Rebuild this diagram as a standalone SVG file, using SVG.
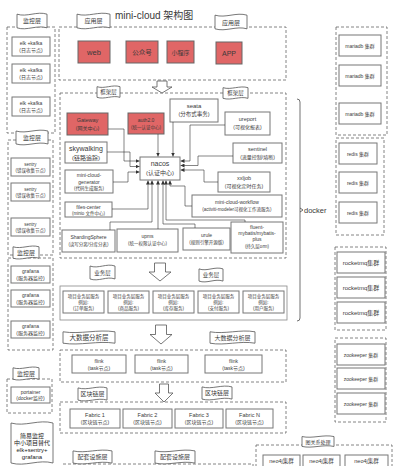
<svg xmlns="http://www.w3.org/2000/svg" width="400" height="466" viewBox="0 0 400 466">
<style>
text{font-family:"Liberation Sans","Noto Sans CJK SC",sans-serif;fill:#3a3a3a;text-anchor:middle}
.bx{fill:#fff;stroke:#777;stroke-width:1}
.rd{fill:#e06666;stroke:#666;stroke-width:1}
.dc{fill:none;stroke:#666;stroke-width:0.8;stroke-dasharray:3 2}
.sc{fill:none;stroke:#888;stroke-width:0.8}
.ln{fill:none;stroke:#333;stroke-width:0.6;marker-end:url(#ah)}
.f45{font-size:4.5px}.f5{font-size:5px}.f55{font-size:5.5px}.f6{font-size:6px}.f65{font-size:6.5px}.f7{font-size:7px}
</style>
<defs>
<marker id="ah" viewBox="0 0 6 6" refX="6" refY="3" markerWidth="4" markerHeight="4" orient="auto" markerUnits="userSpaceOnUse"><path d="M0,0 L6,3 L0,6 Z" fill="#333"/></marker>
<symbol id="tape" viewBox="0 0 100 100" preserveAspectRatio="none" overflow="visible"><path d="M0,12 C33,30 67,-6 100,12 L100,88 C67,70 33,106 0,88 Z" fill="#fff" stroke="#555" stroke-width="0.8" vector-effect="non-scaling-stroke"/></symbol>
<symbol id="harrow" viewBox="0 0 20 18" preserveAspectRatio="none" overflow="visible"><path d="M5,0 H15 V9 H20 L10,18 L0,9 H5 Z" fill="#fff" stroke="#555" stroke-width="0.8" vector-effect="non-scaling-stroke"/></symbol>
</defs>
<rect width="400" height="466" fill="#fff"/>

<g id="containers">
<rect class="dc" x="7" y="27" width="48" height="106"/>
<rect class="dc" x="8" y="140" width="45" height="115"/>
<rect class="dc" x="8" y="258" width="45" height="92"/>
<rect class="dc" x="7" y="379" width="45" height="34"/>
<rect class="dc" x="59" y="27" width="227" height="53"/>
<rect class="dc" x="60" y="93" width="226" height="165"/>
<rect class="sc" x="60" y="286" width="227" height="34"/>
<rect class="dc" x="60" y="350" width="226" height="32"/>
<rect class="dc" x="60" y="402" width="226" height="31"/>
<rect class="dc" x="63" y="464" width="190" height="20"/>
<rect class="dc" x="336" y="27" width="51" height="108"/>
<rect class="dc" x="336" y="138" width="48" height="97"/>
<rect class="dc" x="335" y="247" width="51" height="83"/>
<rect class="dc" x="335" y="338" width="51" height="84"/>
<rect class="dc" x="256" y="445" width="136" height="30"/>
</g>

<text x="115" y="19" style="font-size:10px;text-anchor:start">mini-cloud 架构图</text>

<g id="banners">
<use href="#tape" x="17" y="12" width="30" height="18"/><text class="f6" x="32" y="23">监控层</text>
<use href="#tape" x="16" y="129" width="32" height="17"/><text class="f6" x="32" y="140">监控层</text>
<use href="#tape" x="13" y="245" width="26" height="15"/><text class="f6" x="26" y="255">监控层</text>
<use href="#tape" x="13" y="366" width="26" height="15"/><text class="f6" x="26" y="376">监控层</text>
<path d="M11,423 C25,427 39,419 53,423 L53,463 C39,459 25,467 11,463 Z" fill="#fff" stroke="#555" stroke-width="0.8"/>
<text class="f6" x="32" y="438" style="fill:#222"><tspan x="32">简易监控</tspan><tspan x="32" dy="7">中小项目替代</tspan><tspan x="32" dy="7">elk+sentry+</tspan><tspan x="32" dy="7">grafana</tspan></text>
<use href="#tape" x="77" y="12" width="33" height="18"/><text class="f6" x="93.5" y="23">应用层</text>
<use href="#tape" x="215" y="13" width="32" height="18"/><text class="f6" x="231" y="24.5">应用层</text>
<use href="#tape" x="97" y="85" width="23" height="14"/><text class="f55" x="108.5" y="94">框架层</text>
<use href="#tape" x="223" y="86" width="25" height="14"/><text class="f55" x="235.5" y="95">框架层</text>
<use href="#tape" x="90" y="264" width="25" height="17"/><text class="f55" x="102.5" y="274.5">业务层</text>
<use href="#tape" x="199" y="267" width="24" height="16"/><text class="f55" x="211" y="277">业务层</text>
<use href="#tape" x="63" y="330" width="52" height="15"/><text class="f65" x="89" y="340">大数据分析层</text>
<use href="#tape" x="210" y="330" width="45" height="15"/><text class="f6" x="232.5" y="340">大数据分析层</text>
<use href="#tape" x="78" y="386" width="29" height="16"/><text class="f6" x="92.5" y="396">区块链层</text>
<use href="#tape" x="202" y="385" width="30" height="16"/><text class="f6" x="217" y="395">区块链层</text>
<use href="#tape" x="73" y="449" width="39" height="16"/><text class="f6" x="92.5" y="459">配套设施层</text>
<use href="#tape" x="155" y="449" width="40" height="16"/><text class="f6" x="175" y="459">配套设施层</text>
<use href="#tape" x="302" y="435" width="32" height="13"/><text class="f5" x="318" y="443.5">图关系处理</text>
<use href="#harrow" x="152" y="81" width="20" height="12"/>
<use href="#harrow" x="149" y="263" width="22" height="18"/>
<use href="#harrow" x="150" y="325" width="22" height="19"/>
<use href="#harrow" x="155" y="384" width="18" height="18"/>
</g>

<g id="monitor">
<g id="elk1"><rect class="bx" x="12" y="37" width="38" height="19"/><text class="f5" x="31" y="45">elk +kafka</text><text class="f5" x="31" y="52">(日志节点)</text></g>
<g id="elk2"><rect class="bx" x="12" y="64" width="38" height="19"/><text class="f5" x="31" y="72">elk +kafka</text><text class="f5" x="31" y="79">(日志节点)</text></g>
<g id="elk3"><rect class="bx" x="12" y="97" width="38" height="19"/><text class="f5" x="31" y="105">elk +kafka</text><text class="f5" x="31" y="112">(日志节点)</text></g>
<g id="sentry1"><rect class="bx" x="11" y="158" width="39" height="18"/><text class="f45" x="30.5" y="165.5">sentry</text><text class="f45" x="30.5" y="172">(错误收集节点)</text></g>
<g id="sentry2"><rect class="bx" x="11" y="183" width="39" height="18"/><text class="f45" x="30.5" y="190.5">sentry</text><text class="f45" x="30.5" y="197">(错误收集节点)</text></g>
<g id="sentry3"><rect class="bx" x="11" y="218" width="39" height="18"/><text class="f45" x="30.5" y="225.5">sentry</text><text class="f45" x="30.5" y="232">(错误收集节点)</text></g>
<g id="grafana1"><rect class="bx" x="11" y="266" width="39" height="17"/><text class="f5" x="30.5" y="273">grafana</text><text class="f5" x="30.5" y="280">(服务器监控)</text></g>
<g id="grafana2"><rect class="bx" x="11" y="290" width="39" height="17"/><text class="f5" x="30.5" y="297">grafana</text><text class="f5" x="30.5" y="304">(服务器监控)</text></g>
<g id="grafana3"><rect class="bx" x="11" y="321" width="39" height="17"/><text class="f5" x="30.5" y="328">grafana</text><text class="f5" x="30.5" y="335">(服务器监控)</text></g>
<g id="portainer"><rect class="bx" x="11" y="387" width="39" height="16"/><text class="f5" x="30.5" y="393.5">portainer</text><text class="f5" x="30.5" y="400">(docker监控)</text></g>
</g>

<g id="app">
<g id="web"><rect class="rd" x="78" y="41" width="32" height="22"/><text x="94" y="55" style="font-size:7.5px">web</text></g>
<g id="gzh"><rect class="rd" x="126" y="41" width="32" height="22"/><text class="f65" x="142" y="54.5">公众号</text></g>
<g id="xcx"><rect class="rd" x="167" y="41" width="27" height="22"/><text class="f6" x="180.5" y="54.5">小程序</text></g>
<g id="appn"><rect class="rd" x="216" y="42" width="26" height="22"/><text class="f7" x="229" y="56">APP</text></g>
</g>

<g id="framework">
<g id="gateway"><rect class="rd" x="67" y="113" width="41" height="22"/><text class="f55" x="87.5" y="122">Gateway</text><text class="f5" x="87.5" y="129.5">(网关中心)</text></g>
<g id="auth"><rect class="rd" x="128" y="113" width="36" height="21"/><text class="f5" x="146" y="121.5">auth2.0</text><text class="f45" x="146" y="128.5">(统一认证中心)</text></g>
<g id="seata"><rect class="bx" x="170" y="99" width="48" height="23"/><text class="f6" x="194" y="107.5">seata</text><text class="f55" x="194" y="116">(分布式事务)</text></g>
<g id="ureport"><rect class="bx" x="225" y="112" width="45" height="23"/><text class="f55" x="247.5" y="121">ureport</text><text class="f5" x="247.5" y="129">(可视化报表)</text></g>
<g id="skywalking"><rect class="bx" x="65" y="142" width="42" height="21"/><text class="f7" x="86" y="151">skywalking</text><text class="f6" x="86" y="159.5">(链路追踪)</text></g>
<g id="generator"><rect class="bx" x="65" y="170" width="48" height="23"/><text class="f5" x="89" y="177">mini-cloud-</text><text class="f5" x="89" y="183.5">generator</text><text class="f45" x="89" y="190">(代码生成服务)</text></g>
<g id="files"><rect class="bx" x="65" y="202" width="47" height="15"/><text class="f5" x="88.5" y="208.5">files-center</text><text class="f45" x="88.5" y="214.5">(minio 文件中心)</text></g>
<g id="nacos"><rect class="bx" x="140" y="157" width="40" height="23"/><text class="f7" x="160" y="166">nacos</text><text class="f6" x="160" y="175">(认证中心)</text></g>
<g id="sentinel"><rect class="bx" x="233" y="143" width="49" height="20"/><text class="f55" x="257.5" y="151">sentinel</text><text class="f5" x="257.5" y="158.5">(流量控制/熔断)</text></g>
<g id="xxljob"><rect class="bx" x="218" y="172" width="52" height="20"/><text class="f55" x="244" y="180">xxljob</text><text class="f5" x="244" y="188">(可视化定时任务)</text></g>
<g id="workflow"><rect class="bx" x="192" y="195" width="90" height="22"/><text class="f5" x="237" y="203.5">mini-cloud-workflow</text><text class="f45" x="237" y="211">(activiti-modeler可视化工作流服务)</text></g>
<g id="sharding"><rect class="bx" x="62" y="230" width="53" height="22"/><text class="f5" x="88.5" y="238.5">ShardingSphere</text><text class="f45" x="88.5" y="246">(读写分离/分库分表)</text></g>
<g id="upms"><rect class="bx" x="117" y="229" width="61" height="23"/><text class="f5" x="147.5" y="237.5">upms</text><text class="f45" x="147.5" y="245">(统一权限认证中心)</text></g>
<g id="urule"><rect class="bx" x="183" y="228" width="47" height="22"/><text class="f5" x="206.5" y="236.5">urule</text><text class="f45" x="206.5" y="244">(规则引擎开源版)</text></g>
<g id="fluent"><rect class="bx" x="231" y="222" width="52" height="31"/><text class="f5" x="257" y="229">fluent-</text><text class="f5" x="257" y="235">mybatis/mybatis-</text><text class="f5" x="257" y="241">plus</text><text class="f45" x="257" y="247.5">(持久层orm)</text></g>
</g>

<g id="connectors">
<path class="ln" d="M158,134 V156.5"/>
<path class="ln" d="M173,122 V156.5"/>
<path class="ln" d="M108,129 H124 V161 H139.5"/>
<path class="ln" d="M107,152 H130 V166.5 H139.5"/>
<path class="ln" d="M113,182 H128 V172 H139.5"/>
<path class="ln" d="M225,125 H190 V161 H180.5"/>
<path class="ln" d="M233,156 H198 V165.5 H180.5"/>
<path class="ln" d="M218,182 H204 V170 H180.5"/>
<path class="ln" d="M192,206 H185 V186 H170 V180.5"/>
<path class="ln" d="M112,209 H148 V180.5"/>
<path class="ln" d="M110,230 V222 H152 V180.5"/>
<path class="ln" d="M158,229 V180.5"/>
<path class="ln" d="M195,228 V224 H163 V180.5"/>
<path class="ln" d="M245,222 V220 H166 V180.5"/>
<path d="M297,99 Q300,99 300,102 V318 Q300,321 297,321 M300,208 L303,210 L300,212" fill="none" stroke="#333" stroke-width="0.7"/>
<text x="304" y="212.5" style="font-size:7.5px;text-anchor:start">docker</text>
</g>

<g id="business">
<g id="biz1"><rect class="bx" x="63" y="291" width="41" height="22"/><text class="f45" x="83.5" y="297.5">项目业务层服务</text><text class="f45" x="83.5" y="303.5">例如:</text><text class="f45" x="83.5" y="309.5">(订单服务)</text></g>
<g id="biz2"><rect class="bx" x="108" y="291" width="41" height="22"/><text class="f45" x="128.5" y="297.5">项目业务层服务</text><text class="f45" x="128.5" y="303.5">例如:</text><text class="f45" x="128.5" y="309.5">(商品服务)</text></g>
<g id="biz3"><rect class="bx" x="153" y="291" width="41" height="22"/><text class="f45" x="173.5" y="297.5">项目业务层服务</text><text class="f45" x="173.5" y="303.5">例如:</text><text class="f45" x="173.5" y="309.5">(库存服务)</text></g>
<g id="biz4"><rect class="bx" x="198" y="291" width="41" height="22"/><text class="f45" x="218.5" y="297.5">项目业务层服务</text><text class="f45" x="218.5" y="303.5">例如:</text><text class="f45" x="218.5" y="309.5">(支付服务)</text></g>
<g id="biz5"><rect class="bx" x="243" y="291" width="41" height="22"/><text class="f45" x="263.5" y="297.5">项目业务层服务</text><text class="f45" x="263.5" y="303.5">例如:</text><text class="f45" x="263.5" y="309.5">(用户服务)</text></g>
</g>

<g id="bigdata">
<g id="flink1"><rect class="bx" x="72" y="355" width="54" height="18"/><text class="f5" x="99" y="362.5">flink</text><text class="f5" x="99" y="369.5">(task节点)</text></g>
<g id="flink2"><rect class="bx" x="135" y="355" width="53" height="18"/><text class="f5" x="161.5" y="362.5">flink</text><text class="f5" x="161.5" y="369.5">(task节点)</text></g>
<g id="flink3"><rect class="bx" x="205" y="355" width="57" height="18"/><text class="f5" x="233.5" y="362.5">flink</text><text class="f5" x="233.5" y="369.5">(task节点)</text></g>
</g>

<g id="chain">
<g id="fab1"><rect class="bx" x="70" y="409" width="50" height="19"/><text class="f55" x="95" y="416.5">Fabric 1</text><text class="f5" x="95" y="424">(区块链节点)</text></g>
<g id="fab2"><rect class="bx" x="123" y="409" width="49" height="19"/><text class="f55" x="147.5" y="416.5">Fabric 2</text><text class="f5" x="147.5" y="424">(区块链节点)</text></g>
<g id="fab3"><rect class="bx" x="175" y="409" width="48" height="19"/><text class="f55" x="199" y="416.5">Fabric 3</text><text class="f5" x="199" y="424">(区块链节点)</text></g>
<g id="fabn"><rect class="bx" x="226" y="409" width="47" height="19"/><text class="f55" x="249.5" y="416.5">Fabric N</text><text class="f5" x="249.5" y="424">(区块链节点)</text></g>
</g>

<g id="infra">
<g id="maria1"><rect class="bx" x="339" y="35" width="42" height="21"/><text class="f5" x="360" y="48">mariadb 集群</text></g>
<g id="maria2"><rect class="bx" x="339" y="65" width="42" height="21"/><text class="f5" x="360" y="78">mariadb 集群</text></g>
<g id="maria3"><rect class="bx" x="339" y="103" width="42" height="21"/><text class="f5" x="360" y="116">mariadb 集群</text></g>
<g id="redis1"><rect class="bx" x="339" y="143" width="38" height="21"/><text class="f5" x="358" y="156">redis 集群</text></g>
<g id="redis2"><rect class="bx" x="339" y="172" width="38" height="21"/><text class="f5" x="358" y="185">redis 集群</text></g>
<g id="redis3"><rect class="bx" x="339" y="202" width="38" height="21"/><text class="f5" x="358" y="215">redis 集群</text></g>
<g id="mq1"><rect class="bx" x="337" y="252" width="48" height="21"/><text class="f6" x="361" y="265">rocketmq集群</text></g>
<g id="mq2"><rect class="bx" x="337" y="277" width="48" height="21"/><text class="f6" x="361" y="290">rocketmq集群</text></g>
<g id="mq3"><rect class="bx" x="337" y="302" width="48" height="21"/><text class="f6" x="361" y="315">rocketmq集群</text></g>
<g id="zk1"><rect class="bx" x="337" y="344" width="48" height="21"/><text class="f5" x="361" y="357">zookeeper 集群</text></g>
<g id="zk2"><rect class="bx" x="337" y="368" width="48" height="21"/><text class="f5" x="361" y="381">zookeeper 集群</text></g>
<g id="zk3"><rect class="bx" x="337" y="393" width="48" height="21"/><text class="f5" x="361" y="406">zookeeper 集群</text></g>
<g id="neo1"><rect class="bx" x="263" y="455" width="37" height="13"/><text class="f55" x="281.5" y="463">neo4j集群</text></g>
<g id="neo2"><rect class="bx" x="303" y="455" width="37" height="13"/><text class="f55" x="321.5" y="463">neo4j集群</text></g>
<g id="neo3"><rect class="bx" x="345" y="455" width="43" height="13"/><text class="f55" x="366.5" y="463">neo4j集群</text></g>
</g>
</svg>
